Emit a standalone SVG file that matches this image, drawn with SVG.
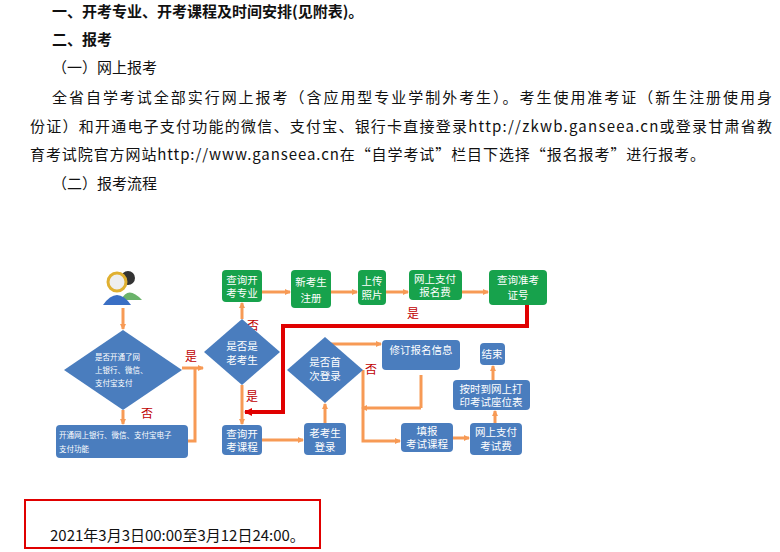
<svg xmlns="http://www.w3.org/2000/svg" width="780" height="552" viewBox="0 0 780 552">
<defs>
<style>
.t{font-family:"Noto Sans CJK SC","Liberation Serif",serif;font-size:15px;fill:#111}
.b{font-weight:bold}
.w{font-family:"Noto Sans CJK SC",sans-serif;fill:#fff;text-anchor:middle;font-size:10.5px}
.s{font-size:7.5px;text-anchor:start}
.bl{fill:#4a7dbe}
.gr{fill:#17a24c}
.c{stroke:#f79a55;stroke-width:3;fill:none}
.a{stroke:#f79a55;stroke-width:3;fill:none;marker-end:url(#ar)}
.r{font-family:"Noto Sans CJK SC",sans-serif;fill:#c00000;font-size:12px}
</style>
<marker id="ar" markerWidth="6" markerHeight="6" refX="5" refY="3" orient="auto" markerUnits="userSpaceOnUse"><path d="M0,0L6,3L0,6z" fill="#f79a55"/></marker>
<marker id="rar" markerWidth="8" markerHeight="8" refX="7" refY="4" orient="auto" markerUnits="userSpaceOnUse"><path d="M0,0L8,4L0,8z" fill="#e00000"/></marker>
</defs>
<rect width="780" height="552" fill="#fff"/>
<text class="t b" x="52" y="17">一、开考专业、开考课程及时间安排(见附表)。</text>
<text class="t b" x="52" y="45">二、报考</text>
<text class="t" x="52" y="73">（一）网上报考</text>
<text class="t" x="52" y="103" textLength="720" lengthAdjust="spacing">全省自学考试全部实行网上报考（含应用型专业学制外考生）。考生使用准考证（新生注册使用身</text>
<text class="t" x="30" y="132" textLength="742" lengthAdjust="spacing">份证）和开通电子支付功能的微信、支付宝、银行卡直接登录http://zkwb.ganseea.cn或登录甘肃省教</text>
<text class="t" x="30" y="160" textLength="675" lengthAdjust="spacing">育考试院官方网站http://www.ganseea.cn在“自学考试”栏目下选择“报名报考”进行报考。</text>
<text class="t" x="52" y="189">（二）报考流程</text>

<g id="connectors">
<path class="a" d="M123,308V329"/>
<path class="a" d="M182,368H203"/>
<path class="a" d="M123,410V424"/>
<path class="c" d="M188,441H195V368"/>
<path class="a" d="M242,319V303"/>
<path class="a" d="M242,385V424"/>
<path class="a" d="M262,292H290"/>
<path class="a" d="M331,292H357"/>
<path class="a" d="M386,292H408"/>
<path class="a" d="M462,292H488"/>
<path class="a" d="M262,440H303"/>
<path class="a" d="M325,423V404"/>
<path class="a" d="M331,344H381"/>
<path class="c" d="M421,375V408"/>
<path class="a" d="M421,408H362"/>
<path class="a" d="M363,370V441H400"/>
<path class="a" d="M453,438H469"/>
<path class="a" d="M495,423V411"/>
<path class="a" d="M493,380V366"/>
<path d="M527,305V326H283V412H245" fill="none" stroke="#e00000" stroke-width="4" marker-end="url(#rar)"/>
<text class="r" x="185" y="361">是</text>
<text class="r" x="141" y="418">否</text>
<text class="r" x="247" y="330">否</text>
<text class="r" x="246" y="401">是</text>
<text class="r" x="407" y="318">是</text>
<text class="r" x="365" y="374">否</text>
</g>

<g id="user">
<circle cx="128" cy="278" r="7" fill="#333"/>
<path d="M121,300Q128,285 142,300Z" fill="#6bb36b"/>
<circle cx="117" cy="282" r="9" fill="#eee" stroke="#e0b030" stroke-width="3"/>
<path d="M103,305Q117,285 131,305Z" fill="#3a6fc4"/>
</g>
<g id="d1"><path class="bl" d="M123,330L182,370L123,410L64,370Z"/>
<text class="w s" x="95" y="360">是否开通了网</text><text class="w s" x="95" y="373">上银行、微信、</text><text class="w s" x="95" y="386">支付宝支付</text></g>
<g id="n_open"><rect class="bl" x="56" y="425" width="132" height="33" rx="4"/>
<text class="w s" x="59" y="438">开通网上银行、微信、支付宝电子</text><text class="w s" x="59" y="452">支付功能</text></g>
<g id="d2"><path class="bl" d="M242,319L280,352L242,385L204,352Z"/>
<text class="w" x="242" y="350">是否是</text><text class="w" x="242" y="364">老考生</text></g>
<g id="g1"><rect class="gr" x="222" y="270" width="40" height="32" rx="4"/><text class="w" x="242" y="284">查询开</text><text class="w" x="242" y="297">考专业</text></g>
<g id="g2"><rect class="gr" x="291" y="270" width="40" height="38" rx="4"/><text class="w" x="311" y="286">新考生</text><text class="w" x="311" y="302">注册</text></g>
<g id="g3"><rect class="gr" x="358" y="270" width="28" height="35" rx="4"/><text class="w" x="372" y="285">上传</text><text class="w" x="372" y="299">照片</text></g>
<g id="g4"><rect class="gr" x="409" y="270" width="53" height="30" rx="4"/><text class="w" x="435" y="283">网上支付</text><text class="w" x="435" y="296">报名费</text></g>
<g id="g5"><rect class="gr" x="489" y="270" width="58" height="35" rx="4"/><text class="w" x="518" y="284">查询准考</text><text class="w" x="518" y="299">证号</text></g>
<g id="d3"><path class="bl" d="M325,337L363,370L325,403L287,370Z"/>
<text class="w" x="325" y="366">是否首</text><text class="w" x="325" y="380">次登录</text></g>
<g id="n_fix"><rect class="bl" x="382" y="340" width="78" height="30" rx="4"/><text class="w" x="421" y="354">修订报名信息</text></g>
<g id="n_q"><rect class="bl" x="222" y="425" width="40" height="30" rx="4"/><text class="w" x="242" y="438">查询开</text><text class="w" x="242" y="451">考课程</text></g>
<g id="n_old"><rect class="bl" x="304" y="423" width="42" height="32" rx="4"/><text class="w" x="325" y="437">老考生</text><text class="w" x="325" y="451">登录</text></g>
<g id="n_fill"><rect class="bl" x="401" y="423" width="52" height="29" rx="4"/><text class="w" x="427" y="435">填报</text><text class="w" x="427" y="448">考试课程</text></g>
<g id="n_pay"><rect class="bl" x="470" y="423" width="52" height="32" rx="4"/><text class="w" x="496" y="436">网上支付</text><text class="w" x="496" y="450">考试费</text></g>
<g id="n_print"><rect class="bl" x="453" y="380" width="77" height="30" rx="4"/><text class="w" x="491" y="393">按时到网上打</text><text class="w" x="491" y="406">印考试座位表</text></g>
<g id="n_end"><rect class="bl" x="480" y="343" width="25" height="22" rx="4"/><text class="w" x="492" y="358">结束</text></g>

<rect x="25" y="500" width="295" height="48" fill="none" stroke="#e00000" stroke-width="2"/>
<text class="t" x="50" y="541">2021年3月3日00:00至3月12日24:00。</text>
</svg>
